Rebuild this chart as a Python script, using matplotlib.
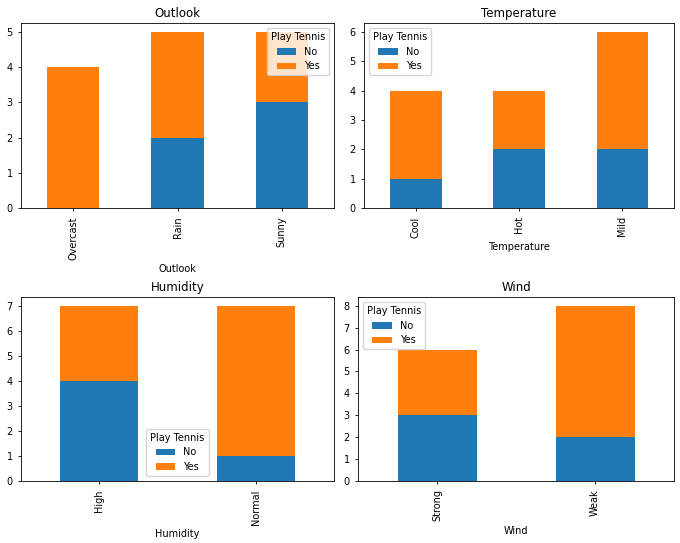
import matplotlib
matplotlib.use("Agg")
import matplotlib.pyplot as plt
from matplotlib.ticker import MultipleLocator
import numpy as np

outlook_cats = ["Overcast", "Rain", "Sunny"]
outlook_no = [0, 2, 3]
outlook_yes = [4, 3, 2]

temp_cats = ["Cool", "Hot", "Mild"]
temp_no = [1, 2, 2]
temp_yes = [3, 2, 4]

hum_cats = ["High", "Normal"]
hum_no = [4, 1]
hum_yes = [3, 6]

wind_cats = ["Strong", "Weak"]
wind_no = [3, 2]
wind_yes = [3, 6]

plt.rcParams['font.size'] = 7
plt.rcParams['axes.linewidth'] = 0.6
plt.rcParams['xtick.major.width'] = 0.6
plt.rcParams['ytick.major.width'] = 0.6
plt.rcParams['xtick.major.size'] = 2.5
plt.rcParams['ytick.major.size'] = 2.5

W, H = 680, 543
fig = plt.figure(figsize=(6.8, 5.43), dpi=100)

def box(x0, x1, y0, y1):
    return [x0 / W, 1 - y1 / H, (x1 - x0) / W, (y1 - y0) / H]

rects = [box(21, 334, 23, 208), box(364, 674, 23, 208),
         box(21, 334, 297, 481), box(358, 674, 297, 481)]

panels = [
    ("Outlook", outlook_cats, outlook_no, outlook_yes, "upper right"),
    ("Temperature", temp_cats, temp_no, temp_yes, "upper left"),
    ("Humidity", hum_cats, hum_no, hum_yes, "lower center"),
    ("Wind", wind_cats, wind_no, wind_yes, "upper left"),
]

for rect, (name, cats, no, yes, loc) in zip(rects, panels):
    ax = fig.add_axes(rect)
    x = np.arange(len(cats))
    ax.bar(x, no, width=0.5, color="#1f77b4", label="No")
    ax.bar(x, yes, width=0.5, bottom=no, color="#ff7f0e", label="Yes")
    ax.set_xticks(x)
    ax.set_xticklabels(cats, rotation=90)
    ax.set_xlim(-0.5, len(cats) - 0.5)
    ax.yaxis.set_major_locator(MultipleLocator(1))
    ax.set_title(name, fontsize=8.5, pad=4)
    ax.set_xlabel(name, labelpad=3)
    ax.legend(title="Play Tennis", loc=loc, fontsize=7, title_fontsize=7)

fig.savefig("out.png", dpi=100)
